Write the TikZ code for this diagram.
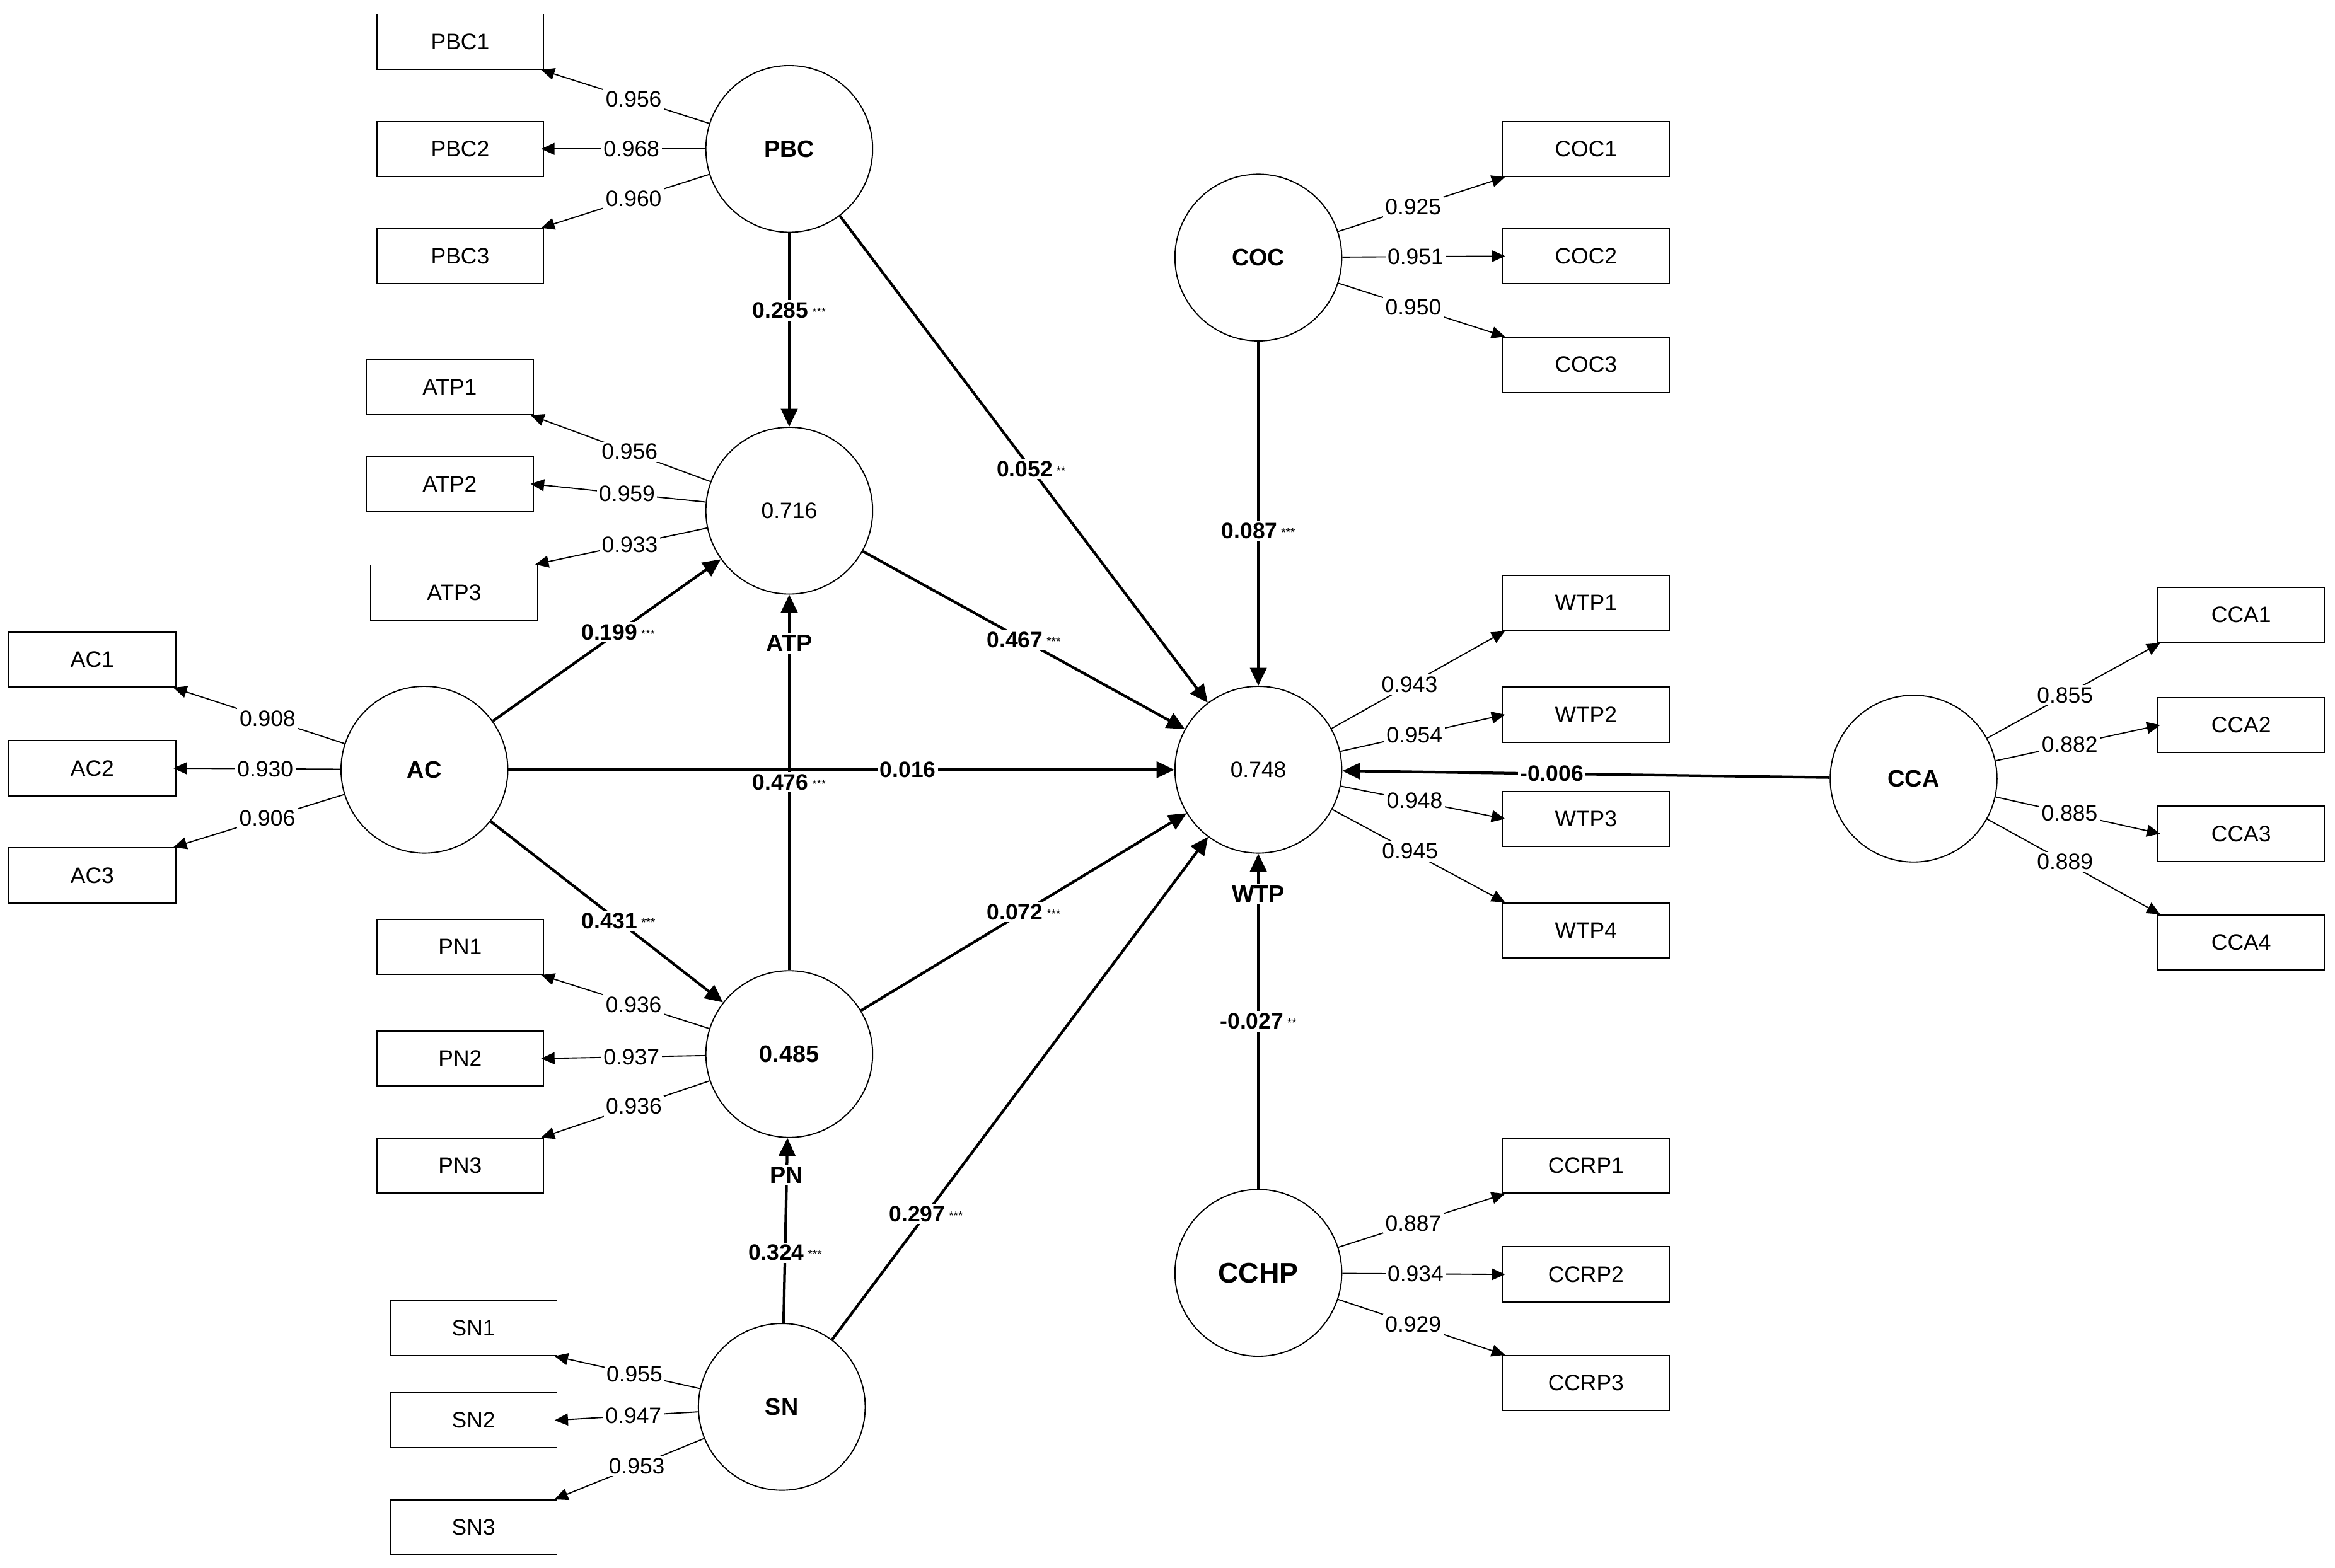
\documentclass[tikz,border=0pt]{standalone}
\usepackage{fontspec}
\setmainfont{Liberation Sans}
\usetikzlibrary{arrows.meta}
\newcommand{\pl}[2]{\textbf{#1}\,{\footnotesize\raisebox{0.3ex}{#2}}}
\begin{document}
\begin{tikzpicture}[x=1pt,y=-1pt,font=\fontsize{15}{17}\selectfont,
 lv/.style={circle,draw,thick,minimum size=112pt,inner sep=0pt},
 bx/.style={draw,thick,minimum width=112pt,minimum height=37pt,inner sep=0pt},
 load/.style={thick,-{Triangle[length=9pt,width=8pt]}},
 path/.style={line width=1.8pt,-{Triangle[length=12pt,width=11pt]}},
 lab/.style={fill=white,inner sep=1.5pt},
 nm/.style={font=\fontsize{16}{18}\selectfont\bfseries}]
\useasboundingbox (0,0) rectangle (1568,1053);
% latent variables
\node[lv,nm] (pbc) at (530,100) {PBC};
\node[lv] (atp) at (530,343) {0.716};
\node[lv,nm] (ac) at (285,517) {AC};
\node[lv,nm] (pn) at (530,708) {0.485};
\node[lv,nm] (sn) at (525,945) {SN};
\node[lv,nm] (coc) at (845,173) {COC};
\node[lv] (wtp) at (845,517) {0.748};
\node[lv,nm] (cca) at (1285,523) {CCA};
\node[lv,font=\fontsize{19}{21}\selectfont\bfseries\rmfamily] (cchp) at (845,855) {CCHP};
% boxes
\foreach \n/\t/\x/\y in {pbc1/PBC1/309/28,pbc2/PBC2/309/100,pbc3/PBC3/309/172,
 atp1/ATP1/302/260,atp2/ATP2/302/325,atp3/ATP3/305/398,
 ac1/AC1/62/443,ac2/AC2/62/516,ac3/AC3/62/588,
 pn1/PN1/309/636,pn2/PN2/309/711,pn3/PN3/309/783,
 sn1/SN1/318/892,sn2/SN2/318/954,sn3/SN3/318/1026,
 coc1/COC1/1065/100,coc2/COC2/1065/172,coc3/COC3/1065/245,
 wtp1/WTP1/1065/405,wtp2/WTP2/1065/480,wtp3/WTP3/1065/550,wtp4/WTP4/1065/625,
 cca1/CCA1/1505/413,cca2/CCA2/1505/487,cca3/CCA3/1505/560,cca4/CCA4/1505/633,
 ccrp1/CCRP1/1065/783,ccrp2/CCRP2/1065/856,ccrp3/CCRP3/1065/929}
 \node[bx] (\n) at (\x,\y) {\t};
% loadings (left side)
\foreach \c/\b/\v/\a in {pbc/pbc1/0.956/south east,pbc/pbc2/0.968/east,pbc/pbc3/0.960/north east,
 atp/atp1/0.956/south east,atp/atp2/0.959/east,atp/atp3/0.933/north east,
 ac/ac1/0.908/south east,ac/ac2/0.930/east,ac/ac3/0.906/north east,
 pn/pn1/0.936/south east,pn/pn2/0.937/east,pn/pn3/0.936/north east,
 sn/sn1/0.955/south east,sn/sn2/0.947/east,sn/sn3/0.953/north east}
 \draw[load] (\c) -- node[lab,pos=0.45]{\v} ([xshift=-2pt]\b.\a);
% loadings (right side)
\foreach \c/\b/\v/\a in {coc/coc1/0.925/south west,coc/coc2/0.951/west,coc/coc3/0.950/north west,
 wtp/wtp1/0.943/south west,wtp/wtp2/0.954/west,wtp/wtp3/0.948/west,wtp/wtp4/0.945/north west,
 cca/cca1/0.855/south west,cca/cca2/0.882/west,cca/cca3/0.885/west,cca/cca4/0.889/north west,
 cchp/ccrp1/0.887/south west,cchp/ccrp2/0.934/west,cchp/ccrp3/0.929/north west}
 \draw[load] (\c) -- node[lab,pos=0.45]{\v} ([xshift=2pt]\b.\a);
% structural paths
\draw[path] (pbc) -- node[lab,pos=0.4]{\pl{0.285}{***}} (atp);
\draw[path] (pbc) -- node[lab,pos=0.52]{\pl{0.052}{**}} (wtp);
\draw[path] (coc) -- node[lab,pos=0.55]{\pl{0.087}{***}} (wtp);
\draw[path] (atp) -- node[lab,pos=0.5]{\pl{0.467}{***}} (wtp);
\draw[path] (ac) -- node[lab,pos=0.55]{\pl{0.199}{***}} (atp);
\draw[path] (ac) -- node[lab,pos=0.6]{\textbf{0.016}} (wtp);
\draw[path] (ac) -- node[lab,pos=0.55]{\pl{0.431}{***}} (pn);
\draw[path] (pn) -- node[lab,pos=0.5]{\pl{0.072}{***}} (wtp);
\draw[path] (sn) -- node[lab,pos=0.25]{\pl{0.297}{***}} (wtp);
\draw[path] (pn) -- node[lab,pos=0.5]{\pl{0.476}{***}} node[lab,pos=0.87,nm]{ATP} (atp);
\draw[path] (sn) -- node[lab,pos=0.38]{\pl{0.324}{***}} node[lab,pos=0.8,nm]{PN} (pn);
\draw[path] (cchp) -- node[lab,pos=0.5]{\pl{-0.027}{**}} node[lab,pos=0.88,nm]{WTP} (wtp);
\draw[path] (cca) -- node[lab,pos=0.57]{\textbf{-0.006}} (wtp);
\end{tikzpicture}
\end{document}
